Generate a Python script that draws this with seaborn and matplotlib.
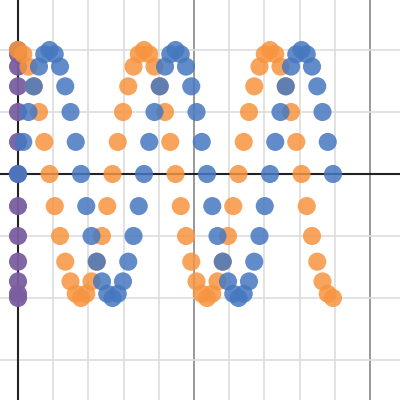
import numpy as np
import pandas as pd
import matplotlib.pyplot as plt
import seaborn as sns

# step index and the sampled waves (15 degree steps)
steps = list(range(61))
sin_vals = [np.sin(np.radians(15 * k)) for k in steps]
cos_vals = [np.cos(np.radians(15 * k)) for k in steps]
# column of points sitting on x = 0
col_y = [np.sin(np.radians(15 * k)) for k in range(-6, 7)]

sns.set_theme(style="white")
fig = plt.figure(figsize=(4, 4), dpi=100)
ax = fig.add_axes([0, 0, 1, 1])

px = 5.25   # pixels per step
py = 124.0  # pixels per unit
ax.set_xlim(-18 / px, (400 - 18) / px)
ax.set_ylim(-(400 - 174) / py, 174 / py)

# grid
for gx in np.arange(18, 400, 35.2):
    major = abs(gx - 194) < 2 or abs(gx - 370) < 2
    ax.axvline((gx - 18) / px, color="#999999" if major else "#dddddd",
               lw=1.4 if major else 1.2, zorder=0)
for gy in np.arange(-1.5, 1.01, 0.5):
    ax.axhline(gy, color="#dddddd", lw=1.2, zorder=0)
ax.axhline(0, color="#222222", lw=1.5, zorder=1)
ax.axvline(0, color="#222222", lw=1.5, zorder=1)

sns.scatterplot(x=[0] * len(col_y), y=col_y, color="#7a5ea0", s=170,
                edgecolor="none", alpha=0.95, ax=ax, zorder=2)
sns.scatterplot(x=steps, y=cos_vals, color="#f7943f", s=170,
                edgecolor="none", alpha=0.85, ax=ax, zorder=3)
sns.scatterplot(x=steps, y=sin_vals, color="#4678c0", s=170,
                edgecolor="none", alpha=0.85, ax=ax, zorder=4)

ax.set_xticks([])
ax.set_yticks([])
ax.set_xlabel("")
ax.set_ylabel("")
for sp in ax.spines.values():
    sp.set_visible(False)

fig.savefig("out.png", dpi=100)
